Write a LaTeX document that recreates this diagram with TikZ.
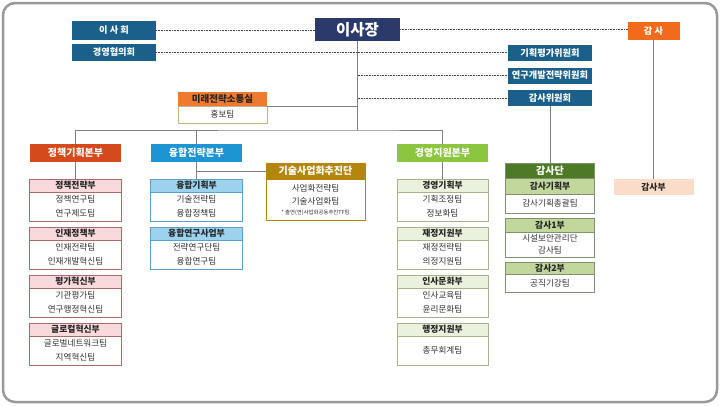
\documentclass[tikz,border=0pt]{standalone}
\usepackage{fontspec}
\setmainfont{Noto Sans CJK KR}
\usetikzlibrary{calc}
\definecolor{cBlue}{HTML}{1A608A}
\definecolor{cNavy}{HTML}{2C3A6B}
\definecolor{cGamsa}{HTML}{F26B1D}
\definecolor{cMirae}{HTML}{EE7A30}
\definecolor{cJC}{HTML}{D44A1C}
\definecolor{cYH}{HTML}{1D95D3}
\definecolor{cGS}{HTML}{B5860E}
\definecolor{cGY}{HTML}{8CC63E}
\definecolor{cGD}{HTML}{4E7A27}
\definecolor{cGL}{HTML}{C2D79B}
\definecolor{cPink}{HTML}{F9D9DC}
\definecolor{cPinkB}{HTML}{A86A6A}
\definecolor{cLB}{HTML}{9CD2EC}
\definecolor{cLBB}{HTML}{5AA0C8}
\definecolor{cLG}{HTML}{EAF1DC}
\definecolor{cLGB}{HTML}{A9B38A}
\definecolor{cGDB}{HTML}{7F8F6F}
\definecolor{cPeach}{HTML}{FBDCC8}
\definecolor{cTan}{HTML}{C8B08A}
\definecolor{cLine}{HTML}{7F7F7F}
\definecolor{cTxt}{HTML}{333333}
\begin{document}
\begin{tikzpicture}[x=1pt,y=-1pt,
  sz/.style 2 args={minimum width=#1pt, minimum height=#2pt},
  base/.style={inner sep=0pt, outer sep=0pt, align=center},
  topb/.style={base, fill=cBlue, text=white, font=\bfseries\fontsize{9.2}{10}\selectfont},
  mainb/.style={base, fill=#1, text=white, font=\bfseries\fontsize{10}{11}\selectfont},
  subh/.style={base, draw=#1, line width=0.6pt, text=black!85, font=\bfseries\fontsize{8.8}{10}\selectfont},
  body/.style={base, draw=#1, line width=0.6pt, fill=white, text=cTxt, font=\fontsize{8.6}{14}\selectfont},
  conn/.style={draw=cLine, line width=1pt},
  dot/.style={draw=black!75, line width=0.7pt, dash pattern=on 0.7pt off 0.9pt}
]
\useasboundingbox (0,0) rectangle (720,405);
\draw[draw=black!40, line width=2.5pt, rounded corners=12pt, fill=white] (3,3) rectangle (717,402);

% top level
\node[topb, sz={84}{19}] (isahoe) at (114,30.5) {이 사 회};
\node[topb, sz={84}{17}] (hyeop) at (114,52.5) {경영협의회};
\node[base, fill=cNavy, text=white, font=\bfseries\fontsize{15.5}{17}\selectfont, sz={85}{23}] (ceo) at (357.5,29.5) {이사장};
\node[topb, fill=cGamsa, sz={52}{18}] (gamsa) at (653.5,31) {감 사};
\node[topb, sz={84}{16}] (gihoek) at (550,53) {기획평가위원회};
\node[topb, sz={84}{16}] (yeongu) at (550,75.5) {연구개발전략위원회};
\node[topb, sz={84}{16}] (gamsawi) at (550,98) {감사위원회};

% 미래전략소통실
\node[base, fill=cMirae, text=black!85, font=\bfseries\fontsize{9.5}{11}\selectfont, sz={89}{14}] (miraeh) at (222.5,99) {미래전략소통실};
\node[body=cTan, sz={89}{17}] (miraeb) at (222.5,114.5) {홍보팀};

% 본부
\node[mainb=cJC, sz={91}{18}] (jc) at (75.5,153) {정책기획본부};
\node[mainb=cYH, sz={91}{18}] (yh) at (196.5,153) {융합전략본부};
\node[mainb=cGY, sz={91}{18}] (gy) at (442.5,153) {경영지원본부};

% 기술사업화추진단
\node[mainb=cGS, draw=cGS, line width=0.6pt, sz={99}{16}] (gsh) at (315.5,171) {기술사업화추진단};
\node[body=cGS, sz={99}{41}, text depth=0pt] (gsb) at (315.5,199.5) {};
\node[base, text=cTxt, font=\fontsize{8.6}{13}\selectfont] (gst) at (315.5,195) {사업화전략팀\\기술사업화팀};
\node[base, text=cTxt, font=\fontsize{5.4}{6}\selectfont] (gsn) at (315.5,213) {* 출연(연)사업화공동추진TF팀};

% 정책기획본부 column
\node[subh=cPinkB, fill=cPink, sz={92}{13}] (jc1h) at (75.5,185.5) {정책전략부};
\node[body=cPinkB, sz={92}{29}] (jc1b) at (75.5,206.5) {정책연구팀\\연구제도팀};
\node[subh=cPinkB, fill=cPink, sz={92}{13}] (jc2h) at (75.5,233.5) {인재정책부};
\node[body=cPinkB, sz={92}{29}] (jc2b) at (75.5,254.5) {인재전략팀\\인재개발혁신팀};
\node[subh=cPinkB, fill=cPink, sz={92}{13}] (jc3h) at (75.5,281.5) {평가혁신부};
\node[body=cPinkB, sz={92}{29}] (jc3b) at (75.5,302.5) {기관평가팀\\연구행정혁신팀};
\node[subh=cPinkB, fill=cPink, sz={92}{13}] (jc4h) at (75.5,329.5) {글로컬혁신부};
\node[body=cPinkB, sz={92}{29}] (jc4b) at (75.5,350.5) {글로벌네트워크팀\\지역혁신팀};

% 융합전략본부 column
\node[subh=cLBB, fill=cLB, sz={92}{13}] (yh1h) at (196.5,185.5) {융합기획부};
\node[body=cLBB, sz={92}{29}] (yh1b) at (196.5,206.5) {기술전략팀\\융합정책팀};
\node[subh=cLBB, fill=cLB, sz={92}{13}] (yh2h) at (196.5,233.5) {융합연구사업부};
\node[body=cLBB, sz={92}{29}] (yh2b) at (196.5,254.5) {전략연구단팀\\융합연구팀};

% 경영지원본부 column
\node[subh=cLGB, fill=cLG, sz={91}{13}] (gy1h) at (442.5,185.5) {경영기획부};
\node[body=cLGB, sz={91}{29}] (gy1b) at (442.5,206.5) {기획조정팀\\정보화팀};
\node[subh=cLGB, fill=cLG, sz={91}{13}] (gy2h) at (442.5,233.5) {재정지원부};
\node[body=cLGB, sz={91}{29}] (gy2b) at (442.5,254.5) {재정전략팀\\의정지원팀};
\node[subh=cLGB, fill=cLG, sz={91}{13}] (gy3h) at (442.5,281.5) {인사문화부};
\node[body=cLGB, sz={91}{29}] (gy3b) at (442.5,302.5) {인사교육팀\\윤리문화팀};
\node[subh=cLGB, fill=cLG, sz={91}{13}] (gy4h) at (442.5,329.5) {행정지원부};
\node[body=cLGB, sz={91}{29}] (gy4b) at (442.5,350.5) {총무회계팀};

% 감사단 column
\node[mainb=cGD, draw=cGDB, line width=0.6pt, sz={89}{15}] (gdh) at (550,170.5) {감사단};
\node[subh=cGDB, fill=cGL, sz={89}{16}] (gd1h) at (550,186) {감사기획부};
\node[body=cGDB, sz={89}{19}] (gd1b) at (550,203.5) {감사기획총괄팀};
\node[subh=cGDB, fill=cGL, sz={89}{14}] (gd2h) at (550,225) {감사1부};
\node[body=cGDB, sz={89}{25}, font=\fontsize{8.6}{12}\selectfont] (gd2b) at (550,244.5) {시설보안관리단\\감사팀};
\node[subh=cGDB, fill=cGL, sz={89}{12}] (gd3h) at (550,268) {감사2부};
\node[body=cGDB, sz={89}{18}] (gd3b) at (550,283) {공직기강팀};

% 감사부
\node[base, fill=cPeach, text=black!85, font=\bfseries\fontsize{8.8}{10}\selectfont, sz={80}{16}] (gamsabu) at (653.5,187) {감사부};

% connectors
\draw[dot] (isahoe.east) -- (isahoe.east -| ceo.west);
\draw[dot] (ceo.east) -- (ceo.east -| gamsa.west);
\draw[dot] (hyeop.east) -- (hyeop.east -| gihoek.west);
\draw[dot] (ceo.south |- yeongu.west) -- (yeongu.west);
\draw[dot] (ceo.south |- gamsawi.west) -- (gamsawi.west);
\coordinate (bus) at (357.5,130);
\draw[conn] (ceo.south) -- (bus);
\draw[conn] (miraeh.south east) -- (miraeh.south east -| ceo.south);
\draw[conn] (jc.north) |- (bus) -| (gy.north);
\draw[conn] (yh.north) -- (yh.north |- bus);
\draw[conn] (jc.south) -- (jc1h.north);
\draw[conn] (yh.south) -- (yh1h.north);
\draw[conn] (gy.south) -- (gy1h.north);
\draw[conn] (yh.south |- gsh.west) -- (gsh.west);
\draw[conn] (gamsawi.south) -- (gdh.north);
\draw[conn] (gamsa.south) -- (gamsabu.north);
\end{tikzpicture}
\end{document}
